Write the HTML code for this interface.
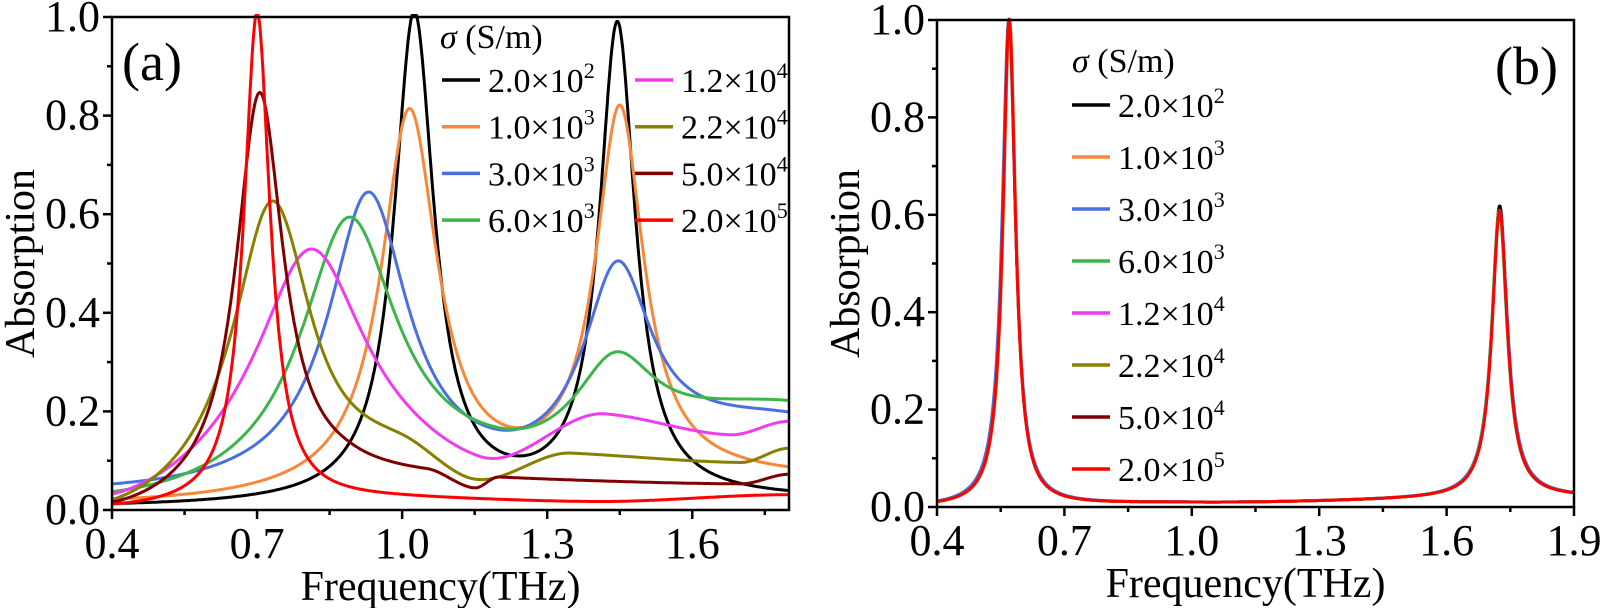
<!DOCTYPE html>
<html><head><meta charset="utf-8"><style>
html,body{margin:0;padding:0;background:#fff;}
svg,text,tspan{font-family:"Liberation Serif","Times New Roman","DejaVu Serif",serif;}
</style></head><body>
<svg id="s" width="1600" height="608" viewBox="0 0 1600 608" xmlns="http://www.w3.org/2000/svg" font-family="Liberation Serif, Times New Roman, DejaVu Serif, serif"></svg>
<script>
const S=document.getElementById('s');let out='';
const FF='font-family="Liberation Serif, Times New Roman, DejaVu Serif, serif"';
function L(x,x0,A,g){const d=(x-x0)/g;return A/(1+d*d);}
function base(x,p){if(x<=p[0][0])return p[0][1];for(let i=1;i<p.length;i++){if(x<=p[i][0]){const t=(x-p[i-1][0])/(p[i][0]-p[i-1][0]);const s=t*t*(3-2*t);return p[i-1][1]+(p[i][1]-p[i-1][1])*s;}}return p[p.length-1][1];}
function panel(P){
 const {x0,x1,y0,y1,xmin,xmax}=P;
 const X=v=>x0+(v-xmin)/(xmax-xmin)*(x1-x0), Y=v=>y1-(v)*(y1-y0);
 out+=`<defs><clipPath id="c${x0}"><rect x="${x0}" y="${y0-3}" width="${x1-x0}" height="${y1-y0+3}"/></clipPath></defs>`;
 let g=`<g clip-path="url(#c${x0})" fill="none" stroke-width="3" stroke-linejoin="round">`;
 for(const c of P.curves){let d='';for(let x=xmin;x<=xmax+1e-9;x+=0.002){let y=base(x,c.b);for(const p of c.p)y+=L(x,p[0],p[1],p[2]);y=Math.max(y,0.008);d+=(d?'L':'M')+X(x).toFixed(1)+','+Y(Math.min(y,1.005)).toFixed(1);}g+=`<path d="${d}" stroke="${c.col}"/>`;}
 out+=g+'</g>';
 out+=`<rect x="${x0}" y="${y0}" width="${x1-x0}" height="${y1-y0}" fill="none" stroke="#000" stroke-width="2.5"/>`;
 for(let i=0;i<=10;i++){const y=Y(i/10);const maj=i%2==0;out+=`<line x1="${x0}" x2="${x0-(maj?9:5)}" y1="${y}" y2="${y}" stroke="#000" stroke-width="2.5"/>`;if(maj)out+=`<text ${FF} x="${x0-12}" y="${y+14}" font-size="44" text-anchor="end">${(i/10).toFixed(1)}</text>`;}
 for(let k=0;;k++){const v=xmin+k*0.15;if(v>xmax+1e-6)break;const x=X(v);const maj=k%2==0;out+=`<line x1="${x}" x2="${x}" y1="${y1}" y2="${y1+(maj?9:5)}" stroke="#000" stroke-width="2.5"/>`;if(maj)out+=`<text ${FF} x="${x}" y="${y1+48}" font-size="44" text-anchor="middle">${v.toFixed(1)}</text>`;}
 out+=`<text ${FF} x="${(x0+x1)/2-10}" y="${y1+90}" font-size="42" text-anchor="middle">Frequency(THz)</text>`;
 out+=`<text ${FF} transform="translate(${x0-78},${(y0+y1)/2}) rotate(-90)" font-size="42" text-anchor="middle">Absorption</text>`;
}
const cols={k:'#000',o:'#f7883a',b:'#4a6fe0',g:'#3cb54a',m:'#f03cf0',ol:'#878000',dr:'#800000',r:'#ff0000'};
panel({x0:112,x1:789,y0:17,y1:510,xmin:0.4,xmax:1.8,curves:[
 {col:cols.k,p:[[1.025,.99,.05],[1.445,.96,.045]],b:[[.4,.005],[1.8,.02]]},
 {col:cols.o,p:[[1.015,.77,.07],[1.45,.75,.06]],b:[[.4,.01],[1.8,.06]]},
 {col:cols.b,p:[[.93,.59,.1],[1.445,.39,.085]],b:[[.4,.03],[1.2,.05],[1.8,.17]]},
 {col:cols.g,p:[[.89,.54,.12],[1.44,.18,.1]],b:[[.4,.005],[1.2,.07],[1.8,.2]]},
 {col:cols.m,p:[[.81,.5,.14]],b:[[.4,-.02],[.7,.02],[1.0,.05],[1.16,.04],[1.42,.17],[1.68,.14],[1.8,.17]]},
 {col:cols.ol,p:[[.73,.61,.1]],b:[[.4,-.03],[.65,.0],[.8,.03],[1.0,.08],[1.15,.03],[1.35,.1],[1.7,.09],[1.8,.12]]},
 {col:cols.dr,p:[[.705,.83,.06]],b:[[.4,-.015],[.6,.0],[.9,.06],[1.05,.06],[1.15,.03],[1.2,.055],[1.7,.05],[1.8,.07]]},
 {col:cols.r,p:[[.7,1.0,.033]],b:[[.4,.0],[1.0,.02],[1.4,.015],[1.8,.03]]}
]});
const bb=[[.4,.0],[1.0,.008],[1.9,.02]];
panel({x0:937,x1:1574,y0:20,y1:507,xmin:0.4,xmax:1.9,curves:[
 {col:cols.k,p:[[.57,1,.018],[1.725,.6,.022]],b:bb},
 {col:cols.o,p:[[.571,1,.018],[1.725,.59,.022]],b:bb},
 {col:cols.b,p:[[.569,1,.019],[1.725,.59,.023]],b:bb},
 {col:cols.g,p:[[.57,1,.018],[1.724,.59,.022]],b:bb},
 {col:cols.r,p:[[.57,1,.018],[1.725,.59,.022]],b:bb}
]});
out+=`<text ${FF} x="122" y="80" font-size="54">(a)</text><text ${FF} x="1495" y="84" font-size="54">(b)</text>`;
function leg(x,y,items,sp){items.forEach((it,i)=>{const yy=y+i*sp;out+=`<line x1="${x}" x2="${x+38}" y1="${yy}" y2="${yy}" stroke="${it[0]}" stroke-width="3.5"/><text ${FF} x="${x+46}" y="${yy+12}" font-size="34">${it[1]}×10<tspan font-size="22" dy="-14">${it[2]}</tspan></text>`;});}
out+=`<text ${FF} x="440" y="48" font-size="34"><tspan font-style="italic">σ</tspan> (S/m)</text>`;
leg(442,80,[[cols.k,'2.0',2],[cols.o,'1.0',3],[cols.b,'3.0',3],[cols.g,'6.0',3]],46.7);
leg(635,80,[[cols.m,'1.2',4],[cols.ol,'2.2',4],[cols.dr,'5.0',4],[cols.r,'2.0',5]],46.7);
out+=`<text ${FF} x="1072" y="72" font-size="34"><tspan font-style="italic">σ</tspan> (S/m)</text>`;
leg(1072,105,[[cols.k,'2.0',2],[cols.o,'1.0',3],[cols.b,'3.0',3],[cols.g,'6.0',3],[cols.m,'1.2',4],[cols.ol,'2.2',4],[cols.dr,'5.0',4],[cols.r,'2.0',5]],52);
S.innerHTML=out;
</script>
</body></html>
